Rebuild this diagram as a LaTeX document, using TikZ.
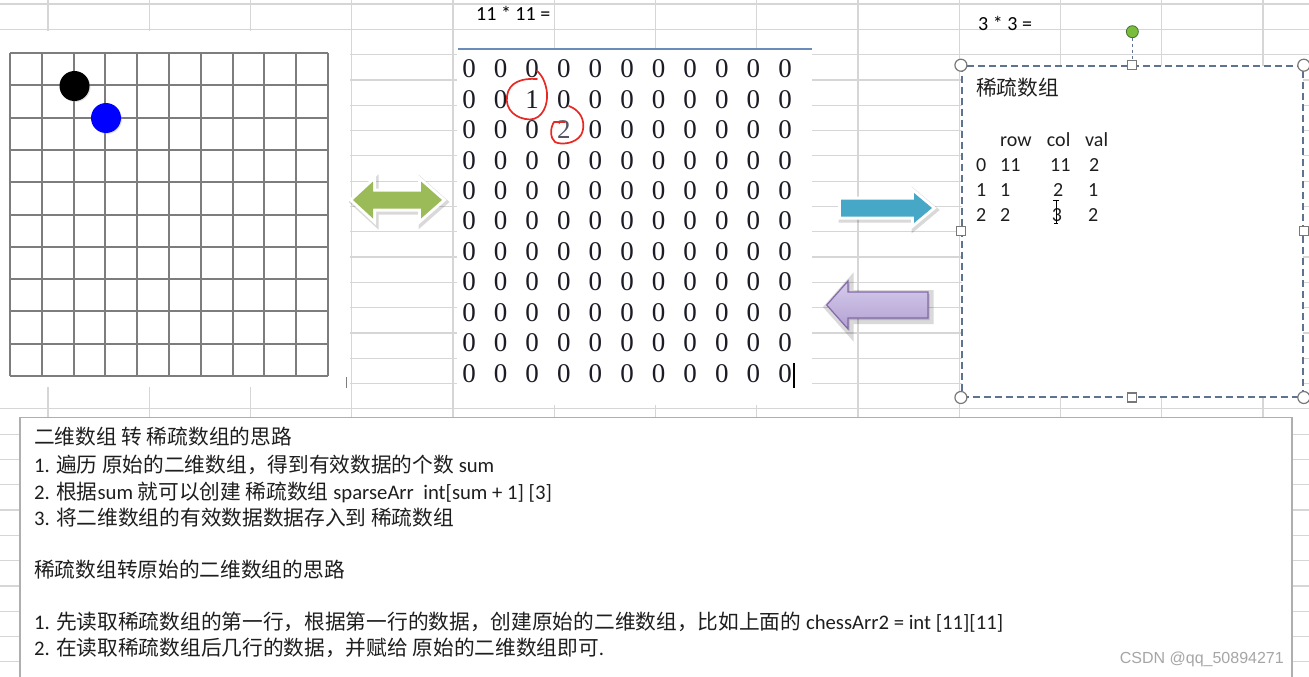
\documentclass[tikz,border=0pt]{standalone}
\usepackage{fontspec}
\setmainfont{Carlito}
\newfontfamily\cjk{Noto Sans CJK SC}
\newfontfamily\digitfont{Liberation Serif}
\newfontfamily\markfont{Liberation Sans}
\usetikzlibrary{shadows}
\definecolor{gridgray}{RGB}{214,214,214}
\definecolor{boardgray}{RGB}{125,125,125}
\definecolor{numblack}{RGB}{28,28,38}
\definecolor{twogray}{RGB}{85,85,100}
\definecolor{textblack}{RGB}{30,30,30}
\definecolor{selblue}{RGB}{105,140,185}
\definecolor{dashblue}{RGB}{95,115,145}
\definecolor{handlegray}{RGB}{120,120,120}
\definecolor{rotgreen}{RGB}{120,190,60}
\definecolor{rotdark}{RGB}{70,110,50}
\definecolor{arrowgreen}{RGB}{155,187,89}
\definecolor{arrowteal}{RGB}{70,168,198}
\definecolor{lilactop}{RGB}{214,204,236}
\definecolor{lilacbot}{RGB}{178,160,210}
\definecolor{lilacline}{RGB}{130,105,170}
\definecolor{penred}{RGB}{232,40,35}
\definecolor{boxgray}{RGB}{175,175,175}
\newcommand{\cellval}[2]{\ifnum#1#2=12 1\else\ifnum#1#2=23 \textcolor{twogray}{2}\else 0\fi\fi}

\begin{document}
\begin{tikzpicture}[x=1pt, y=-1pt,
    sheetline/.style={draw=gridgray, line width=1.2pt},
    boardline/.style={draw=boardgray, line width=2pt},
    num/.style={font=\digitfont\fontsize{27}{27}\selectfont, text=numblack, inner sep=0pt},
    txt/.style={anchor=base west, inner sep=0pt, text=textblack, font=\fontsize{20.7}{26}\selectfont},
    tab/.style={anchor=base west, inner sep=0pt, text=textblack, font=\fontsize{20}{20}\selectfont},
    handle/.style={draw=handlegray, fill=white, line width=1.2pt},
    sqhandle/.style={draw=handlegray, fill=white, line width=1.2pt, minimum size=9pt, inner sep=0pt},
    pen/.style={draw=penred, line width=1.7pt, line cap=round, line join=round},
    blockshadow/.style={preaction={draw=black, fill=black, opacity=0.15, line width=8pt, line join=miter,
        transform canvas={shift={(1.5pt,-2pt)}}}},
    whiterim/.style={preaction={draw=white, line width=6pt, line join=miter}}]
  \useasboundingbox (0,0) rectangle (1309,677);
  \fill[white] (0,0) rectangle (1309,677);
  % sheet cells
  \foreach \k in {0,...,12}
    \draw[sheetline] ({48+101.25*\k},0) -- ({48+101.25*\k},677);
  \foreach \k in {0,...,26}
    \draw[sheetline] (0,{4+25.3*\k}) -- (1309,{4+25.3*\k});
  \fill[white] (0,31) rectangle (350,387);
  \fill[white] (457,49) rectangle (812,405);

  % board
  \foreach \i in {0,...,10} {
    \draw[boardline] ({10+31.8*\i},53) -- ({10+31.8*\i},376);
    \draw[boardline] (10,{53+32.3*\i}) -- (328,{53+32.3*\i});
  }
  \fill[black, drop shadow={opacity=0.25, shadow xshift=1pt, shadow yshift=-1pt}] (74.5,86) circle[radius=15];
  \fill[blue, drop shadow={opacity=0.25, shadow xshift=1pt, shadow yshift=-1pt}] (106,118) circle[radius=15];
  \draw[boardgray, line width=1pt] (346.7,377) -- (346.7,388);

  % array
  \node[anchor=base west, inner sep=0pt, font=\fontsize{20}{20}\selectfont] (size11) at (476,21) {11 * 11 =};
  \draw[selblue, line width=1.5pt] (458,49) -- (812,49);
  \foreach \ri in {0,...,10}
    \foreach \ci in {0,...,10}
      \node[num] (m-\ri-\ci) at ({469+31.6*\ci},{69+30.43*\ri}) {\cellval{\ri}{\ci}};
  \draw[line width=1.2pt] (794,363) -- (794,388);
  \draw[pen] (537,79) .. controls (522,78) and (509,82) .. (507,96)
    .. controls (505,110) and (516,119) .. (530,119.5)
    .. controls (543,119) and (548,104) .. (547,93)
    .. controls (546,83) and (542,75) .. (537,71);
  \draw[pen] (565,122) -- (554,122) .. controls (550,128) and (550,138) .. (555,142)
    .. controls (561,145) and (575,144) .. (581,135)
    .. controls (585,128) and (584,117) .. (577,111)
    .. controls (574,108) and (571,107) .. (569,106);

  % block arrows
  \path[blockshadow, whiterim, fill=arrowgreen] (353,200) -- (373,181.5) -- (373,191.5) -- (421,191.5)
    -- (421,181.5) -- (442,200) -- (421,218.5) -- (421,208.5) -- (373,208.5) -- (373,218.5) -- cycle;
  \path[blockshadow, whiterim, fill=arrowteal] (841,199.5) -- (914,199.5) -- (914,193) -- (932,208)
    -- (914,223) -- (914,216.5) -- (841,216.5) -- cycle;
  \path[blockshadow, top color=lilactop, bottom color=lilacbot, draw=lilacline, line width=1.2pt]
    (826.7,305) -- (848,281) -- (848,292) -- (928,292) -- (928,318) -- (848,318) -- (848,329) -- cycle;

  % sparse array box
  \node[anchor=base west, inner sep=0pt, font=\fontsize{20}{20}\selectfont] (size3) at (978,31) {3 * 3 =};
  \node[draw=dashblue, dash pattern=on 7pt off 4pt, line width=1.6pt, fill=white,
    minimum width=341.3pt, minimum height=330.7pt, inner sep=0pt] (sparse) at (1132.35,231.35) {};
  \node[circle, fill=rotgreen, draw=rotdark, line width=0.8pt, minimum size=12pt, inner sep=0pt] (rot) at (1132.35,31.7) {};
  \draw[dashblue, dash pattern=on 3pt off 3pt, line width=1.2pt] (rot) -- (sparse.north);
  \foreach \a in {north west, north east, south west, south east}
    \draw[handle] (sparse.\a) circle[radius=6];
  \foreach \a in {north, south, west, east}
    \node[sqhandle] at (sparse.\a) {};
  \node[txt] (title) at (976,95.8) {\cjk 稀疏数组};
  \node[tab] (hrow) at (1000,146) {row};
  \node[tab] (hcol) at (1046.7,146) {col};
  \node[tab] (hval) at (1085,146) {val};
  \node[tab] (i0) at (976,171.3) {0};
  \node[tab] (r0) at (1000,171.3) {11};
  \node[tab] (c0) at (1050,171.3) {11};
  \node[tab] (v0) at (1089,171.3) {2};
  \node[tab] (i1) at (976,196.3) {1};
  \node[tab] (r1) at (1000,196.3) {1};
  \node[tab] (c1) at (1053,196.3) {2};
  \node[tab] (v1) at (1088,196.3) {1};
  \node[tab] (i2) at (976,221.3) {2};
  \node[tab] (r2) at (1000,221.3) {2};
  \node[tab] (c2) at (1051.7,221.3) {3};
  \node[tab] (v2) at (1088,221.3) {2};
  \draw[line width=0.8pt] (1053,200) -- (1059,200) (1056,200) -- (1056,223) (1054,223) -- (1058,223);

  % notes
  \draw[boxgray, fill=white, line width=1.5pt] (20,417.7) rectangle (1292,682);
  \node[txt] (note1) at (34,444.9) {{\cjk 二维数组 转 稀疏数组的思路}};
  \node[txt] (note2) at (34,472.9) {1. {\cjk 遍历 原始的二维数组，得到有效数据的个数} sum};
  \node[txt] (note3) at (34,499.9) {2. {\cjk 根据}sum {\cjk 就可以创建 稀疏数组} sparseArr\ \ int[sum + 1] [3]};
  \node[txt] (note4) at (34,525.9) {3. {\cjk 将二维数组的有效数据数据存入到 稀疏数组}};
  \node[txt] (note5) at (34,577.9) {{\cjk 稀疏数组转原始的二维数组的思路}};
  \node[txt] (note6) at (34,629.9) {1. {\cjk 先读取稀疏数组的第一行，根据第一行的数据，创建原始的二维数组，比如上面的} chessArr2 = int [11][11]};
  \node[txt] (note7) at (34,655.9) {2. {\cjk 在读取稀疏数组后几行的数据，并赋给 原始的二维数组即可}.};
  \node[anchor=base east, inner sep=0pt, text=black!35, font=\markfont\fontsize{16}{16}\selectfont] (mark) at (1284,663.7) {CSDN @qq\_50894271};
\end{tikzpicture}
\end{document}
